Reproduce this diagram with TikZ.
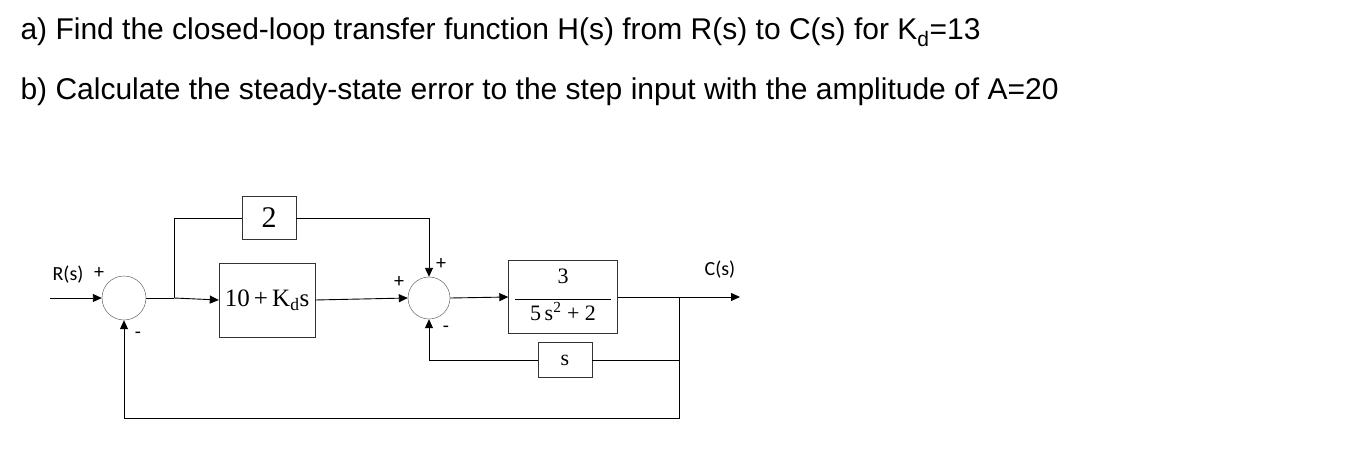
\documentclass[tikz,border=0pt]{standalone}
\usepackage{fontspec}
\setmainfont{Liberation Sans}
\newfontfamily\blockfont{Liberation Serif}
\newfontfamily\labelfont{Carlito}
\usetikzlibrary{positioning,calc,arrows.meta}
\tikzset{%
  block/.style={%
    rectangle,
    draw=black!80,
    fill=white,
    inner sep=0pt,
    font=\blockfont
  },
  sumNode/.style={%
    circle,
    draw=black!70,
    minimum size=44pt,
    inner sep=0pt
  },
  signal/.style={%
    -{Triangle[length=9pt,width=8pt]},
    line width=0.9pt
  },
  wire/.style={%
    line width=0.9pt
  },
  sigLabel/.style={%
    font=\labelfont\fontsize{20}{22}\selectfont
  }
}

\begin{document}
\begin{tikzpicture}[x=1pt,y=-1pt]
            \useasboundingbox (0,0) rectangle (1358,471);
            % question text
            \node[anchor=west, font=\fontsize{30}{34}\selectfont] (qa) at (17,32) {a) Find the closed-loop transfer function H(s) from R(s) to C(s) for K\textsubscript{d}=13};
            \node[anchor=west, font=\fontsize{30}{34}\selectfont] (qb) at (17,92) {b) Calculate the steady-state error to the step input with the amplitude of A=20};

            % blocks
            \node[sumNode] (sum1) at (124,298) {};
            \node[sumNode, minimum size=42pt] (sum2) at (429,298) {};
            \node[block, minimum width=54pt, minimum height=43pt, font=\blockfont\fontsize{30}{32}\selectfont] (gain) at (269,218) {2};
            \node[block, minimum width=96pt, minimum height=74pt, font=\blockfont\fontsize{25}{28}\selectfont] (pd) at (267,300) {10\,+\,K\textsubscript{d}s};
            \node[block, minimum width=109pt, minimum height=73pt, font=\blockfont\fontsize{22}{24}\selectfont] (plant) at (563,297) {\begin{tabular}{@{}c@{}}3\\[-8pt]\rule{96pt}{0.8pt}\\[-4pt]5\,s\textsuperscript{2} + 2\end{tabular}};
            \node[block, minimum width=54pt, minimum height=35pt, font=\blockfont\fontsize{22}{24}\selectfont] (deriv) at (565,360) {s};

            \coordinate (branch) at (174,298);
            \coordinate (outTap) at (679,297);
            \coordinate (cOut) at (740,297);
            \coordinate (rIn) at (50,298);

            % connectors
            \draw[signal] (rIn) -- (sum1.west);
            \draw[wire] (sum1.east) -- (branch);
            \draw[signal] (branch) -- (pd.west);
            \draw[wire] (branch) |- (gain.west);
            \draw[signal] (gain.east) -| (sum2.north);
            \draw[signal] (pd.east) -- (sum2.west);
            \draw[signal] (sum2.east) -- (plant.west);
            \draw[signal] (plant.east) -- (cOut);
            \draw[wire] (outTap) |- (deriv.east);
            \draw[signal] (deriv.west) -| (sum2.south);
            \draw[signal] (outTap) |- ($(sum1.south)+(0,98)$) -- (sum1.south);

            % signs and labels
            \node[sigLabel] (rLbl) at (68,275) {R(s)};
            \node[sigLabel] (cLbl) at (720,270) {C(s)};
            \node[sigLabel] (p1) at (99,273) {+};
            \node[sigLabel] (m1) at (138,335) {-};
            \node[sigLabel] (p2) at (399,282) {+};
            \node[sigLabel] (p3) at (441,264) {+};
            \node[sigLabel] (m2) at (446,329) {-};
\end{tikzpicture}
\end{document}
